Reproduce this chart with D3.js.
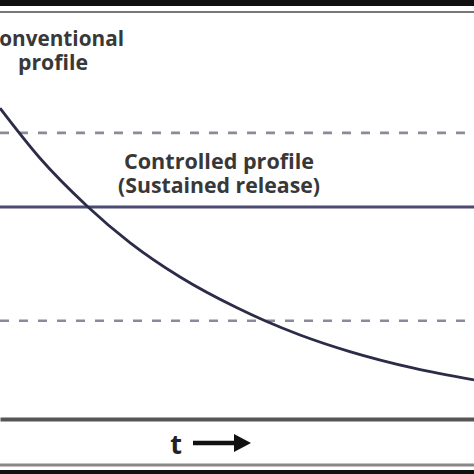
<!DOCTYPE html>
<html><head><meta charset="utf-8">
<script src="https://cdn.jsdelivr.net/npm/d3@7"></script>
<style>html,body{margin:0;padding:0;background:#fff;overflow:hidden}</style>
</head><body>
<svg id="c" width="474" height="474"></svg>
<script>
// Data (time in arbitrary units, concentration in % of plot height)
const times = [0, 0.84, 1.84, 2.74, 3.80, 5.0, 5.59, 6.33, 7.38, 8.73, 10];
const conventional = [76.5, 64.2, 52.3, 43.3, 34.8, 27.2, 24.0, 20.5, 16.4, 12.3, 9.4];
const controlledLevel = 52.1;
const upperLevel = 70.4;
const lowerLevel = 24.0;
const convLabel = ["Conventional", "profile"];
const ctrlLabel = ["Controlled profile", "(Sustained release)"];
const xLabel = "t";

const svg = d3.select("#c");
const W = 474, H = 474;
const x = d3.scaleLinear().domain([0, 10]).range([0, W]);
const y = d3.scaleLinear().domain([0, 100]).range([418, 13]);

// frame bands
svg.append("rect").attr("x",0).attr("y",0).attr("width",W).attr("height",6).attr("fill","#111");
svg.append("rect").attr("x",0).attr("y",470).attr("width",W).attr("height",4).attr("fill","#111");
svg.append("line").attr("x1",0).attr("x2",W).attr("y1",12).attr("y2",12).attr("stroke","#777").attr("stroke-width",2);
svg.append("line").attr("x1",0).attr("x2",W).attr("y1",465).attr("y2",465).attr("stroke","#888").attr("stroke-width",3);

// x axis line (no ticks)
const xa = svg.append("g").attr("transform",`translate(0,${y(0)+1})`)
  .call(d3.axisBottom(x).tickValues([]).tickSizeOuter(0));
xa.select(".domain").attr("stroke","#555").attr("stroke-width",4);

// dashed levels
[upperLevel, lowerLevel].forEach(v => {
  svg.append("line").attr("x1",0).attr("x2",W).attr("y1",y(v)).attr("y2",y(v))
    .attr("stroke","#8a8a9a").attr("stroke-width",2.6).attr("stroke-dasharray","9,10");
});

// controlled line
svg.append("line").attr("x1",0).attr("x2",W).attr("y1",y(controlledLevel)).attr("y2",y(controlledLevel))
  .attr("stroke","#4a4a74").attr("stroke-width",3);

// conventional curve
const line = d3.line().x((d,i)=>x(times[i])).y(d=>y(d)).curve(d3.curveMonotoneX);
svg.append("path").datum(conventional).attr("d",line).attr("fill","none")
  .attr("stroke","#2c2c48").attr("stroke-width",2.8);

// texts
const font = "'Open Sans',sans-serif";
function label(txt, cx, by, w, size) {
  svg.append("text").attr("font-family",font).attr("font-weight","bold").attr("font-size",size)
    .attr("fill","#383838").attr("x",cx - w/2).attr("y",by)
    .attr("textLength",w).attr("lengthAdjust","spacingAndGlyphs").text(txt);
}
label(convLabel[0], 55, 46, 138, 22);
label(convLabel[1], 53, 70, 70, 22);
label(ctrlLabel[0], 219, 169, 190, 22);
label(ctrlLabel[1], 219, 193, 202, 22);

svg.append("text").attr("font-family",font).attr("font-weight","bold").attr("font-size",27)
  .attr("fill","#222").attr("x",176).attr("y",454).attr("text-anchor","middle").text(xLabel);
svg.append("line").attr("x1",193).attr("x2",238).attr("y1",443).attr("y2",443).attr("stroke","#111").attr("stroke-width",4.5);
svg.append("path").attr("d","M234,434 L251,443 L234,452 Z").attr("fill","#111");
</script>
</body></html>
